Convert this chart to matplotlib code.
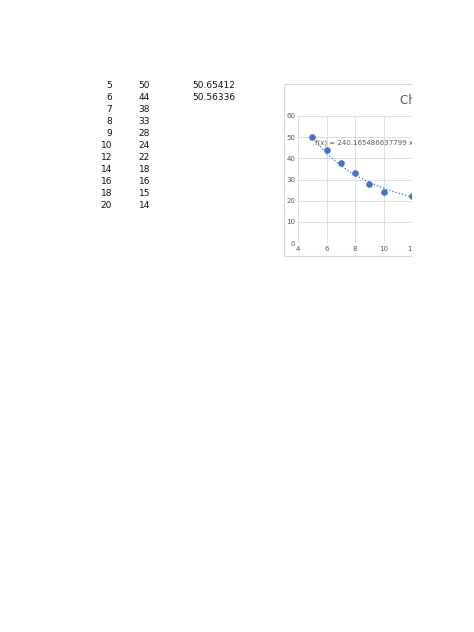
import matplotlib.pyplot as plt
import matplotlib.patches as mpatches
import numpy as np

x_vals = [5, 6, 7, 8, 9, 10, 12, 14, 16, 18, 20]
y_vals = [50, 44, 38, 33, 28, 24, 22, 18, 16, 15, 14]
side_vals = ["50.65412", "50.56336"]

W, H = 474, 632
fig = plt.figure(figsize=(W / 100, H / 100), dpi=100)
fig.patch.set_facecolor("white")


def fx(px):
    return px / W


def fy(py):
    return 1 - py / H


# spreadsheet cells
for i, (xv, yv) in enumerate(zip(x_vals, y_vals)):
    yy = fy(85 + i * 12.1)
    fig.text(fx(112), yy, str(xv), ha="right", va="center", fontsize=6.5, color="#111111")
    fig.text(fx(150), yy, str(yv), ha="right", va="center", fontsize=6.5, color="#111111")
for i, s in enumerate(side_vals):
    fig.text(fx(192), fy(85 + i * 12.1), s, ha="left", va="center", fontsize=6.5, color="#111111")

# chart frame (behind the axes)
fig.patches.append(mpatches.Rectangle((fx(284), fy(256)), fx(140), fy(84) - fy(256),
                                      transform=fig.transFigure, facecolor="white",
                                      edgecolor="#d9d9d9", linewidth=0.8, zorder=-1))
fig.text(fx(400), fy(100), "Chart Title", ha="left", va="center", fontsize=8.5, color="#595959")

ax = fig.add_axes([fx(298), fy(243), fx(412 - 298), fy(116) - fy(243)])
ax.set_xlim(4, 12)
ax.set_ylim(0, 60)
ax.set_xticks(range(4, 13, 2))
ax.set_yticks(range(0, 61, 10))
ax.grid(True, color="#d9d9d9", linewidth=0.6)
ax.set_axisbelow(True)
for s in ax.spines.values():
    s.set_visible(False)
ax.tick_params(length=0, labelsize=5, colors="#595959", pad=2)
ax.set_facecolor("none")

# power trendline fit
b, loga = np.polyfit(np.log(x_vals), np.log(y_vals), 1)
xs = np.linspace(5, 20, 200)
ax.plot(xs, np.exp(loga) * xs ** b, linestyle=":", color="#4472c4", linewidth=0.9)
ax.scatter(x_vals, y_vals, s=14, color="#4472c4", zorder=3)
ax.text(5.2, 46.5, "f(x) = 240.165486637799 x^-0.963", fontsize=5, color="#595959")

# right edge of the visible region
fig.patches.append(mpatches.Rectangle((fx(412), 0), 1, 1, transform=fig.transFigure,
                                      facecolor="white", edgecolor="none", zorder=10))

fig.savefig("out.png", dpi=100, facecolor="white")
